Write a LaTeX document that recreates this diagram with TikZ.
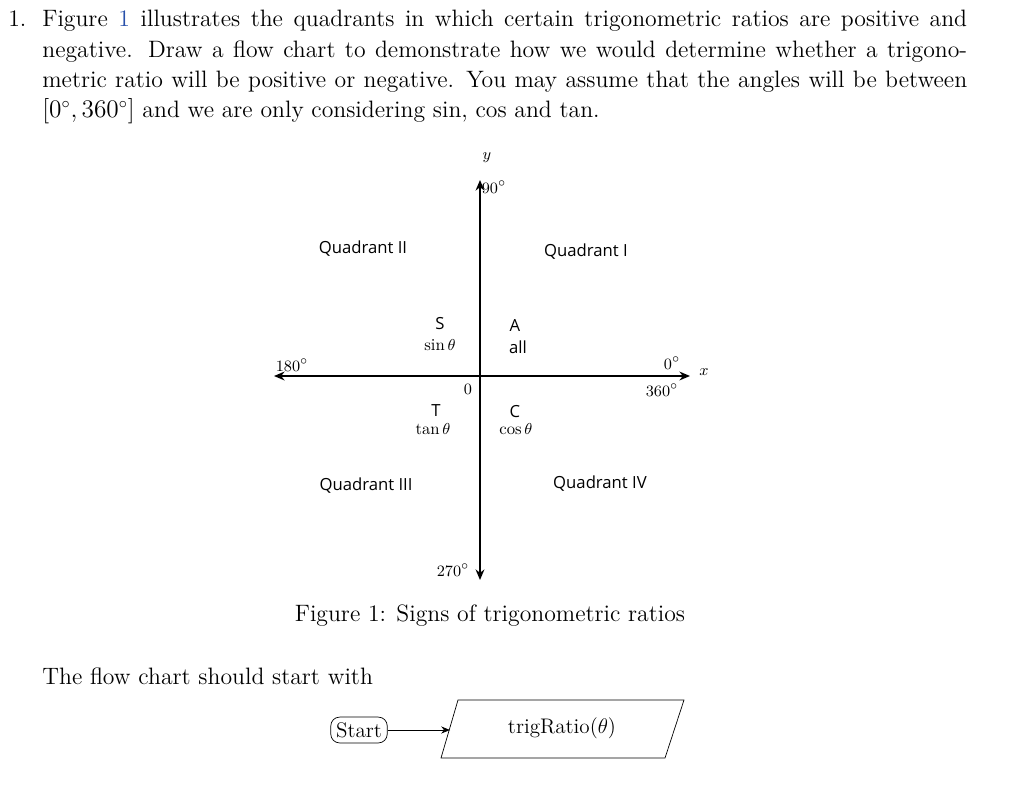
\documentclass[tikz,border=0pt]{standalone}
\usepackage{fontspec}
\newfontfamily\qsans{Open Sans}
\usetikzlibrary{arrows.meta}
\definecolor{linkblue}{RGB}{40,80,170}
\begin{document}
\begin{tikzpicture}[x=0.02cm,y=-0.02cm,
  small/.style={font=\fontsize{9.5}{11}\selectfont, inner sep=0pt},
  quad/.style={font=\qsans\fontsize{9.5}{11}\selectfont, inner sep=0pt},
  ax/.style={line width=1.1pt,-{Stealth[length=6pt,width=5pt]}}]
\useasboundingbox (0,0) rectangle (1024,805);
\node[anchor=north west, inner sep=0pt, font=\fontsize{13.5}{17.2}\selectfont] (num) at (8,10) {1.};
\node[anchor=north west, inner sep=0pt, text width=18.5cm, align=justify, font=\fontsize{13.5}{17.2}\selectfont] (q) at (42,10)
{Figure \textcolor{linkblue}{1} illustrates the quadrants in which certain trigonometric ratios are positive and\linebreak
negative. Draw a flow chart to demonstrate how we would determine whether a trigono-\linebreak
metric ratio will be positive or negative. You may assume that the angles will be between\linebreak
$[0^\circ,360^\circ]$ and we are only considering sin, cos and tan.\hfill\null};
% axes
\coordinate (o) at (480,376);
\coordinate (yt) at (480,180);
\coordinate (yb) at (480,580);
\coordinate (xl) at (274,376);
\coordinate (xr) at (690,376);
\draw[ax] (o) -- (yt);
\draw[ax] (o) -- (yb);
\draw[ax] (o) -- (xl);
\draw[ax] (o) -- (xr);
\node[small] (ly) at (487,158) {$y$};
\node[small] (l90) at (494,187) {$90^\circ$};
\node[small] (l180) at (292,365) {$180^\circ$};
\node[small] (l0) at (672,363) {$0^\circ$};
\node[small] (lx) at (704,372) {$x$};
\node[small] (l360) at (662,390) {$360^\circ$};
\node[small] (lo) at (468,389) {$0$};
\node[small] (l270) at (453,570) {$270^\circ$};
\node[quad] (q2) at (363,249) {Quadrant II};
\node[quad] (q1) at (586,252) {Quadrant I};
\node[quad] (q3) at (366,486) {Quadrant III};
\node[quad] (q4) at (600,484) {Quadrant IV};
\node[quad] (s) at (440,324) {S};
\node[small] (sin) at (440,345) {$\sin\theta$};
\node[quad] (a) at (515,326) {A};
\node[quad] (all) at (518,347) {all};
\node[quad] (t) at (436,411) {T};
\node[small] (tan) at (433,429) {$\tan\theta$};
\node[quad] (c) at (515,412) {C};
\node[small] (cos) at (516,429) {$\cos\theta$};
\node[inner sep=0pt, font=\fontsize{13.5}{16}\selectfont] (cap) at (490,616) {Figure 1: Signs of trigonometric ratios};
\node[anchor=west, inner sep=0pt, font=\fontsize{13.5}{16}\selectfont] (fc) at (42,676) {The flow chart should start with};
\node[draw, rounded corners=5pt, minimum width=66\pgflinewidth, inner sep=3pt, font=\fontsize{12}{14}\selectfont] (start) at (359,730) {Start};
\coordinate (p1) at (458,700);
\coordinate (p2) at (684,700);
\coordinate (p3) at (665,758);
\coordinate (p4) at (441,758);
\draw (p1) -- (p2) -- (p3) -- (p4) -- cycle;
\node[inner sep=0pt, font=\fontsize{12}{14}\selectfont] (tr) at (562,728) {trigRatio($\theta$)};
\coordinate (pin) at (450,730);
\draw[-{Stealth[length=5pt,width=4pt]}] (start) -- (pin);
\end{tikzpicture}
\end{document}
